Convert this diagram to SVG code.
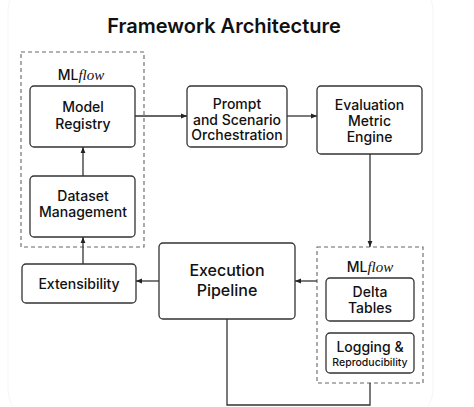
<svg xmlns="http://www.w3.org/2000/svg" width="474" height="407" viewBox="0 0 474 407">
<defs>
<marker id="ah" viewBox="0 0 10 10" refX="10" refY="5" markerWidth="6" markerHeight="6" orient="auto" markerUnits="userSpaceOnUse">
<path d="M0,1 L10,5 L0,9 z" fill="#222"/>
</marker>
<style>
.box{fill:#fff;stroke:#333;stroke-width:1.3}
.dash{fill:none;stroke:#666;stroke-width:1.1;stroke-dasharray:4,3}
.t{font-family:Inter,"Liberation Sans",sans-serif;font-size:14px;fill:#111;text-anchor:middle;font-weight:500}
.ml{font-family:Inter,"Liberation Sans",sans-serif;font-size:14px;fill:#111;text-anchor:middle;font-weight:500}
.fl{font-family:"Liberation Serif","DejaVu Serif",serif;font-style:italic;font-weight:400}
.c{fill:none;stroke:#333;stroke-width:1.3}
</style>
</defs>
<rect width="474" height="407" fill="#fff"/>
<rect x="8" y="-20" width="425" height="440" rx="30" fill="none" stroke="#f5f5f5" stroke-width="1"/>
<text x="224" y="33" style="font-family:Inter,'Liberation Sans',sans-serif;font-size:20px;font-weight:600;fill:#111;text-anchor:middle">Framework Architecture</text>

<g id="mlflow-top">
<rect class="dash" x="21" y="52" width="123" height="195"/>
<text class="ml" x="81" y="80">ML<tspan class="fl" font-size="15">flow</tspan></text>
</g>
<g id="model-registry">
<rect class="box" x="30" y="86" width="105" height="61" rx="4"/>
<text class="t" x="83" y="112">Model</text>
<text class="t" x="83" y="129">Registry</text>
</g>
<g id="dataset-management">
<rect class="box" x="30" y="176" width="105" height="61" rx="4"/>
<text class="t" x="83" y="201">Dataset</text>
<text class="t" x="83" y="217">Management</text>
</g>
<g id="prompt">
<rect class="box" x="187" y="86" width="100" height="61" rx="4"/>
<text class="t" x="237" y="109">Prompt</text>
<text class="t" x="237" y="124.5">and Scenario</text>
<text class="t" x="237" y="140">Orchestration</text>
</g>
<g id="evaluation">
<rect class="box" x="317" y="86" width="105" height="68" rx="4"/>
<text class="t" x="369.5" y="110">Evaluation</text>
<text class="t" x="369.5" y="126">Metric</text>
<text class="t" x="369.5" y="142">Engine</text>
</g>
<g id="mlflow-bottom">
<rect class="dash" x="317" y="247" width="106" height="136"/>
<text class="ml" x="370" y="272">ML<tspan class="fl" font-size="15">flow</tspan></text>
</g>
<g id="delta-tables">
<rect class="box" x="326" y="278" width="88" height="43" rx="4"/>
<text class="t" x="370" y="297">Delta</text>
<text class="t" x="370" y="313">Tables</text>
</g>
<g id="logging">
<rect class="box" x="326" y="333" width="88" height="40" rx="4"/>
<text class="t" x="370" y="352" font-size="13">Logging &amp;</text>
<text class="t" x="370" y="365.5" style="font-size:10.5px">Reproducibility</text>
</g>
<g id="execution-pipeline">
<rect class="box" x="159" y="243" width="136" height="76" rx="4"/>
<text class="t" x="227" y="276" style="font-size:16px">Execution</text>
<text class="t" x="227" y="295.5" style="font-size:16px">Pipeline</text>
</g>
<g id="extensibility">
<rect class="box" x="22" y="264" width="114" height="39" rx="4"/>
<text class="t" x="79" y="289">Extensibility</text>
</g>

<g id="connectors">
<line class="c" x1="135" y1="116" x2="187" y2="116" marker-end="url(#ah)"/>
<line class="c" x1="287" y1="116" x2="317" y2="116" marker-end="url(#ah)"/>
<line class="c" x1="370" y1="154" x2="370" y2="247" marker-end="url(#ah)"/>
<line class="c" x1="317" y1="281" x2="295" y2="281" marker-end="url(#ah)"/>
<line class="c" x1="159" y1="281" x2="136" y2="281" marker-end="url(#ah)"/>
<line class="c" x1="83" y1="264" x2="83" y2="237" marker-end="url(#ah)"/>
<line class="c" x1="83" y1="176" x2="83" y2="147" marker-end="url(#ah)"/>
<polyline class="c" points="227,319 227,405 370,405 370,383"/>
</g>
</svg>
